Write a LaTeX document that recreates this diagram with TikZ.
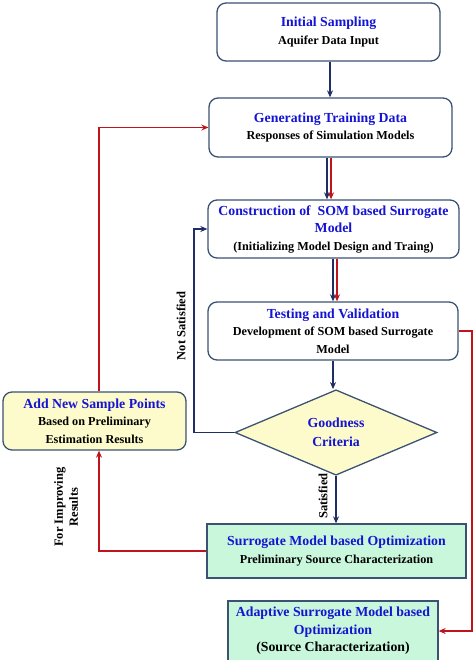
\documentclass[tikz,border=0pt]{standalone}
\usepackage{fontspec}
\setmainfont{Liberation Serif}
\usetikzlibrary{arrows.meta,positioning,calc,shapes.geometric}
\definecolor{BoxLine}{HTML}{3B5273}
\definecolor{FlowBlue}{HTML}{1F2F66}
\definecolor{FlowRed}{HTML}{C0141C}
\definecolor{TitleBlue}{HTML}{1414D2}
\definecolor{PaleYellow}{HTML}{FDFBCB}
\definecolor{PaleGreen}{HTML}{C9F7DC}
\tikzset{
  etapa/.style    = {draw=BoxLine, line width=1.3pt, rounded corners=9pt, fill=white,
                     align=center, inner sep=2pt,
                     font=\fontsize{12.2}{17.5}\selectfont\bfseries},
  amarilla/.style = {etapa, fill=PaleYellow},
  verde/.style    = {draw=BoxLine, line width=1.3pt, fill=PaleGreen, align=center,
                     inner sep=2pt, font=\fontsize{12.2}{17.5}\selectfont\bfseries},
  criterio/.style = {draw=BoxLine, line width=1.3pt, diamond, fill=PaleYellow,
                     align=center, inner sep=0pt,
                     font=\fontsize{13.8}{19}\selectfont\bfseries},
  flechaz/.style  = {-{Stealth[length=7pt,width=6pt]}, line width=1.4pt, draw=FlowBlue},
  flechar/.style  = {-{Stealth[length=7pt,width=6pt]}, line width=1.4pt, draw=FlowRed},
  lbl/.style      = {font=\fontsize{12.5}{15}\selectfont\bfseries, rotate=90, align=center},
}
\newcommand{\titulo}[1]{{\fontsize{13.8}{17.5}\selectfont\color{TitleBlue}#1}}

\begin{document}
\begin{tikzpicture}[x=1pt, y=1pt]
  \useasboundingbox (0,0) rectangle (474,-660);
  % boxes
  \node[etapa, minimum width=223pt, minimum height=58pt] (ini) at (328.5,-32)
    {\titulo{Initial Sampling}\\Aquifer Data Input};
  \node[etapa, minimum width=243pt, minimum height=59pt] (gen) at (330.5,-127.5)
    {\titulo{Generating Training Data}\\Responses of Simulation Models};
  \node[etapa, minimum width=251pt, minimum height=58pt] (con) at (333.5,-229)
    {\titulo{Construction of \ SOM based Surrogate}\\\titulo{Model}\\(Initializing Model Design and Traing)};
  \node[etapa, minimum width=250pt, minimum height=58pt] (tes) at (333,-331)
    {\titulo{Testing and Validation}\\Development of SOM based Surrogate\\Model};
  \node[criterio, minimum width=202pt, minimum height=75pt] (goo) at (336,-432.5)
    {\titulo{Goodness}\\\titulo{Criteria}};
  \node[amarilla, minimum width=183pt, minimum height=58pt] (add) at (94.5,-421)
    {\titulo{Add New Sample Points}\\Based on Preliminary\\Estimation Results};
  \node[verde, minimum width=259pt, minimum height=54pt] (sop) at (336.5,-551)
    {\titulo{Surrogate Model based Optimization}\\Preliminary Source Characterization};
  \node[verde, minimum width=210pt, minimum height=60pt] (ada) at (333,-631)
    {\titulo{Adaptive Surrogate Model based}\\\titulo{Optimization}\\{\fontsize{13.8}{17.5}\selectfont(Source Characterization)}};
  % blue flow
  \draw[flechaz] (ini.south -| 330,0) -- (gen.north -| 330,0);
  \draw[flechaz] (gen.south -| 327,0) -- (con.north -| 327,0);
  \draw[flechaz] (con.south -| 333,0) -- (tes.north -| 333,0);
  \draw[flechaz] (tes.south -| 333,0) -- (goo.north -| 333,0);
  \draw[flechaz] (goo.west) -- (194,-432.5) |- (con.west);
  \draw[flechaz] (goo.south) -- (sop.north -| goo.south);
  % red flow
  \draw[flechar] (gen.south -| 331,0) -- (con.north -| 331,0);
  \draw[flechar] (con.south -| 337,0) -- (tes.north -| 337,0);
  \draw[flechar] (sop.west) -- (99,-551) -- (add.south -| 99,0);
  \draw[flechar] (add.north -| 99,0) -- (99,-127.5) -- (gen.west);
  \draw[flechar] (tes.east) -- (472,-331) |- (ada.east);
  % labels
  \node[lbl] (nsat) at (181,-326) {Not Satisfied};
  \node[lbl] (sat) at (323,-496) {Satisfied};
  \node[lbl] (imp) at (66,-507) {For Improving\\Results};
\end{tikzpicture}
\end{document}
